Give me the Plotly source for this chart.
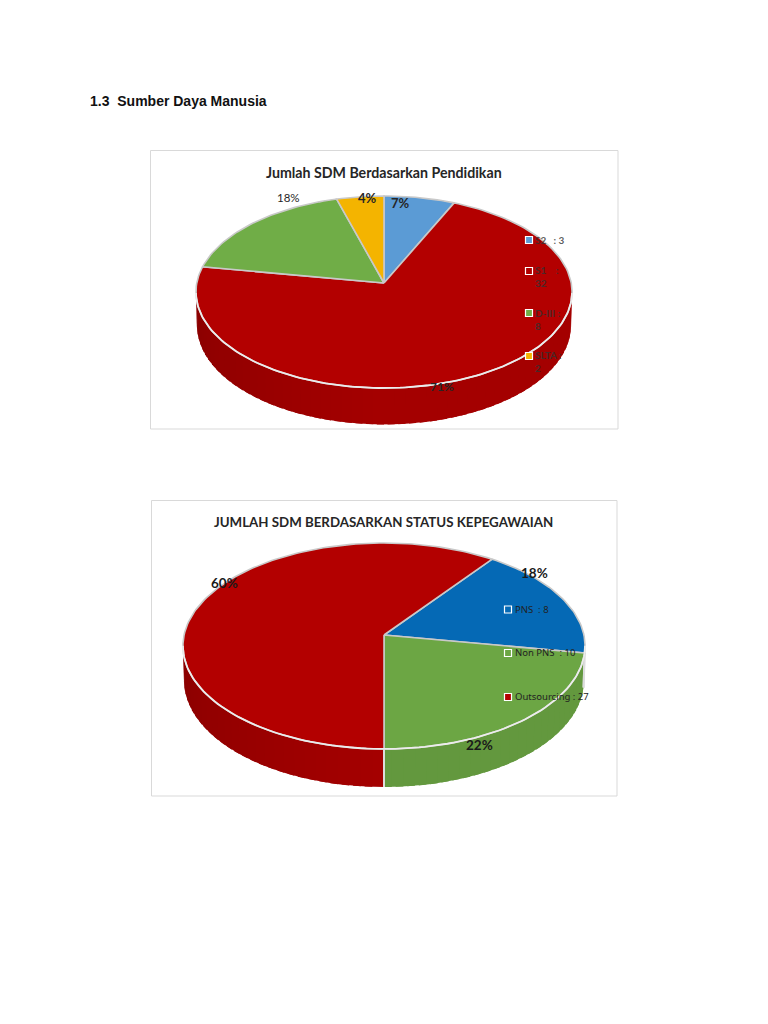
import math
import plotly.graph_objects as go

# ---- data ----
edu_categories = ["S2", "S1", "D-III", "SLTA"]
edu_values = [3, 32, 8, 2]
edu_legend = ["S2   : 3", "S1    :<br>32", "D-III :<br>8", "SLTA :<br>2"]
status_categories = ["PNS", "Non PNS", "Outsourcing"]
status_values = [8, 10, 27]
status_legend = ["PNS  : 8", "Non PNS  : 10", "Outsourcing : 27"]
edu_title = "Jumlah SDM Berdasarkan Pendidikan"
status_title = "JUMLAH SDM BERDASARKAN STATUS KEPEGAWAIAN"
page_heading = "1.3  Sumber Daya Manusia"

# ---- styling / layout ----
EDU_COLORS = ["#5b9bd5", "#b30000", "#70ad47", "#f4b400"]
STATUS_COLORS = ["#0569b5", "#6ca644", "#b30000"]

EDU_GEO = dict(cx=384, cy=283, R=187.2, S=95.2, k=0.09375, depth=33, start=0)
STATUS_GEO = dict(cx=384, cy=635, R=199.9, S=101.8, k=0.1068, depth=34, start=36)

fig = go.Figure()


def project(g, theta_deg, r=1.0, drop=False):
    t = math.radians(theta_deg)
    den = 1 + g["k"] * math.cos(t) * r
    x = g["cx"] + g["R"] * r * math.sin(t) / den
    y = g["cy"] - g["S"] * r * math.cos(t) / den
    if drop:
        y += g["depth"] / den
        x = g["cx"] + (x - g["cx"]) * 0.995
    return x, y


def shade(color, f):
    c = color.lstrip("#")
    return "#%02x%02x%02x" % tuple(int(int(c[i:i + 2], 16) * f) for i in (0, 2, 4))


def side_factor(theta):
    if theta >= 180:
        return 0.92 - 0.16 * (theta - 180) / 90
    return 0.92


def poly(xs, ys, fill, line, width):
    fig.add_trace(go.Scatter(x=xs, y=ys, mode="lines", fill="toself", fillcolor=fill,
                             line=dict(color=line, width=width), hoverinfo="skip",
                             showlegend=False))


def draw_pie(values, colors, g):
    total = sum(values)
    a = g["start"]
    spans = []
    for v, col in zip(values, colors):
        b = a + 360 * v / total
        spans.append((a, b, col))
        a = b
    vis0, vis1 = 96, 264
    # side wall in narrow shaded bands; each band runs under the next one
    for a0, b0, col in spans:
        lo, hi = max(a0, vis0), min(b0, vis1)
        th = lo
        while th < hi:
            nxt = min(th + 3, hi)
            end = min(nxt + 2, hi)
            pts_top = [project(g, th), project(g, end)]
            pts_bot = [project(g, end, drop=True), project(g, th, drop=True)]
            xs = [p[0] for p in pts_top + pts_bot] + [pts_top[0][0]]
            ys = [p[1] for p in pts_top + pts_bot] + [pts_top[0][1]]
            c = shade(col, side_factor((th + nxt) / 2))
            poly(xs, ys, c, c, 0)
            th = nxt
    # vertical separators on the wall
    for a0, b0, col in spans:
        for th in (a0, b0):
            th = th % 360
            if 100 <= th <= 260:
                p, q = project(g, th), project(g, th, drop=True)
                fig.add_trace(go.Scatter(x=[p[0], q[0]], y=[p[1], q[1]], mode="lines",
                                         line=dict(color="#dcdcdc", width=2),
                                         hoverinfo="skip", showlegend=False))
    # top face
    for a0, b0, col in spans:
        n = max(2, int((b0 - a0) / 1.5))
        arc = [project(g, a0 + (b0 - a0) * i / n) for i in range(n + 1)]
        xs = [g["cx"]] + [p[0] for p in arc] + [g["cx"]]
        ys = [g["cy"]] + [p[1] for p in arc] + [g["cy"]]
        poly(xs, ys, col, "#c9c9c9", 1.6)
    # rim: light front edge
    fr = [project(g, 96 + i * 1.5) for i in range(113)]
    fig.add_trace(go.Scatter(x=[p[0] for p in fr], y=[p[1] for p in fr], mode="lines",
                             line=dict(color="#ececec", width=1.8),
                             hoverinfo="skip", showlegend=False))


FRAMES = [(150.5, 150.5, 618, 429), (151.5, 500.5, 617, 796)]
shapes = [dict(type="rect", x0=x0, y0=y0, x1=x1, y1=y1, xref="x", yref="y", layer="below",
               line=dict(color="#d9d9d9", width=1), fillcolor="white") for x0, y0, x1, y1 in FRAMES]

draw_pie(edu_values, EDU_COLORS, EDU_GEO)
draw_pie(status_values, STATUS_COLORS, STATUS_GEO)

annotations = []


def text(x, y, s, size, color, family="Lato", anchor="left", bold=False):
    annotations.append(dict(x=x, y=y, xref="x", yref="y", text=f"<b>{s}</b>" if bold else s,
                            showarrow=False, xanchor=anchor, yanchor="middle", align="left",
                            font=dict(family=family, size=size, color=color)))


text(88, 101, page_heading, 14, "#111111", family="Liberation Sans", bold=True)
text(383.5, 172, edu_title, 14.2, "#262626", anchor="center", bold=True)
text(383.5, 521.5, status_title, 13.3, "#262626", anchor="center", bold=True)

# percentage labels
edu_pct_pos = [(400, 203), (442, 386), (288, 197), (367, 198)]
edu_pct_style = [(13, True), (12, True), (11.5, False), (13, True)]
for v, pos, (sz, b) in zip(edu_values, edu_pct_pos, edu_pct_style):
    text(pos[0], pos[1], f"{round(100 * v / sum(edu_values))}%", sz, "#262626", anchor="center", bold=b)
status_pct_pos = [(534, 573), (479, 745), (224, 583)]
for v, pos in zip(status_values, status_pct_pos):
    text(pos[0], pos[1], f"{round(100 * v / sum(status_values))}%", 13.5, "#1a1a1a", anchor="center", bold=True)

# legends
edu_leg_pos = [(529, 240), (529, 271), (529, 313), (529, 356)]
edu_txt_y = [240, 276, 319, 361]
for lab, col, cat, pos, ty in zip(edu_legend, EDU_COLORS, edu_categories, edu_leg_pos, edu_txt_y):
    fig.add_trace(go.Scatter(x=[pos[0]], y=[pos[1]], mode="markers", name=cat, showlegend=False,
                             marker=dict(symbol="square", size=7, color=col,
                                         line=dict(color="white", width=1.2)), hoverinfo="skip"))
    text(533, ty, lab, 10, "rgba(50,50,50,0.8)", bold=True)

status_leg_pos = [(508, 609.5), (508, 653), (508, 697)]
for lab, col, cat, pos in zip(status_legend, STATUS_COLORS, status_categories, status_leg_pos):
    fig.add_trace(go.Scatter(x=[pos[0]], y=[pos[1]], mode="markers", name=cat, showlegend=False,
                             marker=dict(symbol="square", size=7, color=col,
                                         line=dict(color="white", width=1.2)), hoverinfo="skip"))
    text(513, pos[1] - 0.5, lab, 9.5, "#222222", family="Noto Sans")

fig.update_layout(width=768, height=1024, margin=dict(l=0, r=0, t=0, b=0),
                  paper_bgcolor="white", plot_bgcolor="white", showlegend=False,
                  shapes=shapes, annotations=annotations,
                  xaxis=dict(range=[0, 768], visible=False, fixedrange=True),
                  yaxis=dict(range=[1024, 0], visible=False, fixedrange=True))

fig.write_html("out.html", config=dict(displayModeBar=False),
               post_script="document.body.style.margin='0';document.body.style.overflow='hidden';")
